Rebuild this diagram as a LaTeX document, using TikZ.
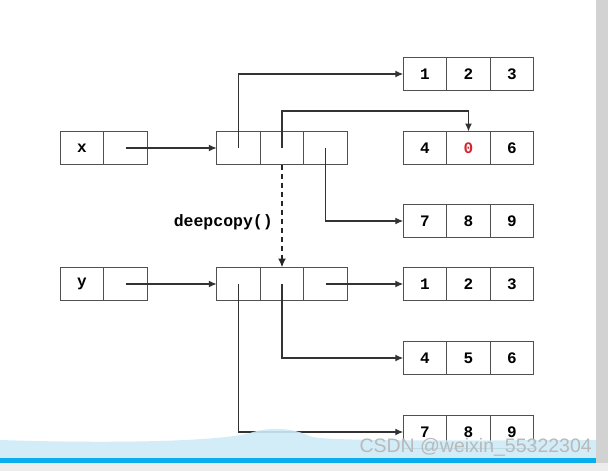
\documentclass[tikz,border=0pt]{standalone}
\usepackage{fontspec}
\setmonofont{Liberation Mono}
\newfontfamily\wmfont{Liberation Sans}
\usepackage{tikz}
\usetikzlibrary{positioning,arrows.meta}
\definecolor{boxgray}{HTML}{505050}
\definecolor{zeroRed}{HTML}{D22630}
\definecolor{waveBlue}{HTML}{CDEBF7}
\definecolor{barBlue}{HTML}{0AAEEC}

\begin{document}
\begin{tikzpicture}
    [x=1pt,y=-1pt,
 cell/.style ={rectangle, draw=boxgray, line width=1.4pt, minimum width=43.5pt, minimum height=33pt, inner sep=0pt, outer sep=0pt, font=\ttfamily\bfseries\fontsize{16}{16}\selectfont},
 ptr/.style ={draw=black!80, line width=1.3pt, -{Latex[length=8pt,width=7pt]}},
 copyline/.style ={draw=black!85, line width=2pt, dash pattern=on 5pt off 4pt, -{Latex[length=9pt,width=8pt]}},
 wm/.style ={text=gray!55, font=\wmfont\fontsize{19.5}{19.5}\selectfont, inner sep=0pt}]
    \useasboundingbox (0,0) rectangle (608,471);
        % variables
        \node[cell] (x1) at (82,148) {x};
        \node[cell, right=0pt of x1] (x2) {};
        \node[cell] (y1) at (82,284) {y};
        \node[cell, right=0pt of y1] (y2) {};
        % outer lists
        \node[cell] (lx1) at (238.5,148) {};
        \node[cell, right=0pt of lx1] (lx2) {};
        \node[cell, right=0pt of lx2] (lx3) {};
        \node[cell] (ly1) at (238.5,284) {};
        \node[cell, right=0pt of ly1] (ly2) {};
        \node[cell, right=0pt of ly2] (ly3) {};
        % inner lists of x
        \node[cell] (ra1) at (425,74) {1};
        \node[cell, right=0pt of ra1] (ra2) {2};
        \node[cell, right=0pt of ra2] (ra3) {3};
        \node[cell] (rb1) at (425,148) {4};
        \node[cell, right=0pt of rb1, text=zeroRed] (rb2) {0};
        \node[cell, right=0pt of rb2] (rb3) {6};
        \node[cell] (rc1) at (425,221) {7};
        \node[cell, right=0pt of rc1] (rc2) {8};
        \node[cell, right=0pt of rc2] (rc3) {9};
        % inner lists of y
        \node[cell] (sa1) at (425,284) {1};
        \node[cell, right=0pt of sa1] (sa2) {2};
        \node[cell, right=0pt of sa2] (sa3) {3};
        \node[cell] (sb1) at (425,358) {4};
        \node[cell, right=0pt of sb1] (sb2) {5};
        \node[cell, right=0pt of sb2] (sb3) {6};
        \node[cell] (sc1) at (425,432) {7};
        \node[cell, right=0pt of sc1] (sc2) {8};
        \node[cell, right=0pt of sc2] (sc3) {9};
        % references
        \coordinate (bend) at (0,111);
        \draw[ptr] (x2.center) -- (lx1.west);
        \draw[ptr] (y2.center) -- (ly1.west);
        \draw[ptr] (lx1.center) |- (ra1.west);
        \draw[ptr] (lx2.center) -- (lx2.center |- bend) -| (rb2.north);
        \draw[ptr] (lx3.center) |- (rc1.west);
        \draw[ptr] (ly3.center) -- (sa1.west);
        \draw[ptr] (ly2.center) |- (sb1.west);
        \draw[ptr] (ly1.center) |- (sc1.west);
        \draw[copyline] (lx2.south) -- (ly2.north);
        \node[font=\ttfamily\bfseries\fontsize{16.5}{16.5}\selectfont, anchor=east, inner sep=0pt] (copy) at (273,222) {deepcopy()};
        % screenshot frame
        \fill[waveBlue, opacity=0.9] (0,440) .. controls (120,444) and (220,441) .. (250,433) .. controls (268,427) and (292,427) .. (312,437) .. controls (340,442) and (500,440) .. (596,440) -- (596,458) -- (0,458) -- cycle;
        \fill[barBlue] (0,458) rectangle (596,463);
        \fill[gray!15] (0,463) rectangle (608,471);
        \fill[gray!35] (596,0) rectangle (608,463);
        \node[wm, anchor=east] (mark) at (592,447) {CSDN @weixin\_55322304};
    \end{tikzpicture}
\end{document}
